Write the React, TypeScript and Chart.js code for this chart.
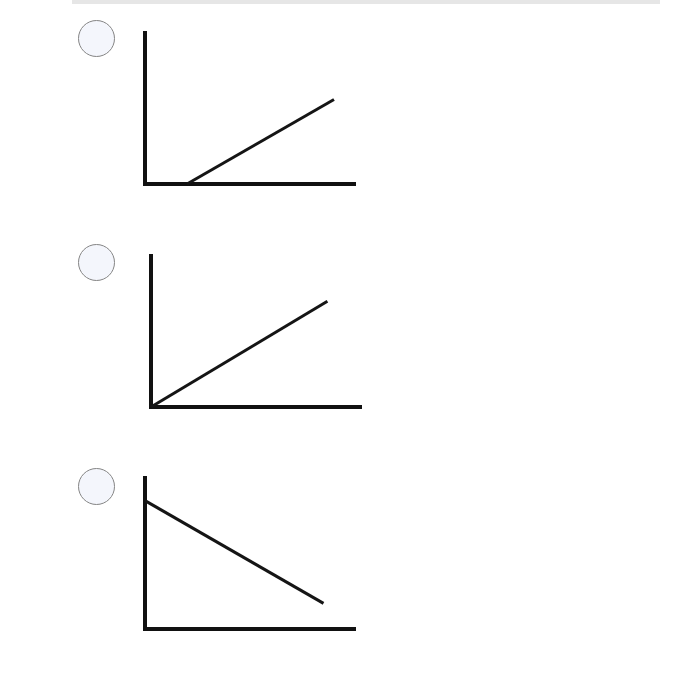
import { useEffect, useRef } from 'react';
import { Chart, registerables } from 'chart.js';

Chart.register(...registerables);

// one small graph per answer choice, values in 0..10 axis units
const choices = ['A', 'B', 'C'];
const lineX1 = [2, 9];
const lineY1 = [0, 5.6];
const lineX2 = [0, 8.4];
const lineY2 = [0, 7.0];
const lineX3 = [0, 8.5];
const lineY3 = [8.5, 1.7];
const axisRange = [0, 10];

const PAD = 6;

function MiniGraph({
    xs,
    ys,
    left,
    top,
    width,
    height,
}: {
    xs: number[];
    ys: number[];
    left: number;
    top: number;
    width: number;
    height: number;
}) {
    const ref = useRef<HTMLCanvasElement>(null);
    const chart = useRef<Chart | null>(null);

    useEffect(() => {
        if (!ref.current) return;
        if (chart.current) chart.current.destroy();

        const axis = {
            type: 'linear' as const,
            min: axisRange[0],
            max: axisRange[1],
            grid: { display: false, drawTicks: false },
            ticks: { display: false },
            border: { display: true, color: '#111', width: 4 },
        };

        chart.current = new Chart(ref.current, {
            type: 'line',
            data: {
                datasets: [
                    {
                        data: xs.map((x, i) => ({ x, y: ys[i] })),
                        borderColor: '#151515',
                        borderWidth: 3,
                        pointRadius: 0,
                        clip: false as any,
                        tension: 0,
                    },
                ],
            },
            options: {
                animation: false,
                responsive: true,
                maintainAspectRatio: false,
                layout: { padding: PAD },
                plugins: { legend: { display: false }, tooltip: { enabled: false } },
                scales: { x: axis, y: axis },
                events: [],
            },
        });

        return () => {
            chart.current?.destroy();
            chart.current = null;
        };
    }, [xs, ys]);

    return (
        <div
            style={{
                position: 'absolute',
                left: left - PAD,
                top: top - PAD,
                width: width + PAD * 2,
                height: height + PAD * 2,
            }}
        >
            <canvas ref={ref} />
        </div>
    );
}

function Radio({ cy }: { cy: number }) {
    return (
        <div
            style={{
                position: 'absolute',
                left: 97 - 19,
                top: cy - 19,
                width: 35,
                height: 35,
                borderRadius: '50%',
                border: '1.5px solid #858585',
                background: '#f4f6fc',
            }}
        />
    );
}

export default function App() {
    const graphs = [
        { xs: lineX1, ys: lineY1, left: 145, top: 33, cy: 39 },
        { xs: lineX2, ys: lineY2, left: 151, top: 256, cy: 263 },
        { xs: lineX3, ys: lineY3, left: 145, top: 478, cy: 487 },
    ];
    return (
        <div
            style={{
                position: 'absolute',
                left: 0,
                top: 0,
                width: 700,
                height: 693,
                background: '#fff',
                overflow: 'hidden',
            }}
        >
            <div
                style={{
                    position: 'absolute',
                    left: 72,
                    top: 0,
                    width: 588,
                    height: 4,
                    background: '#e6e6e6',
                }}
            />
            {graphs.map((g, i) => (
                <div key={choices[i]}>
                    <Radio cy={g.cy} />
                    <MiniGraph
                        xs={g.xs}
                        ys={g.ys}
                        left={g.left}
                        top={g.top}
                        width={210}
                        height={151}
                    />
                </div>
            ))}
        </div>
    );
}
